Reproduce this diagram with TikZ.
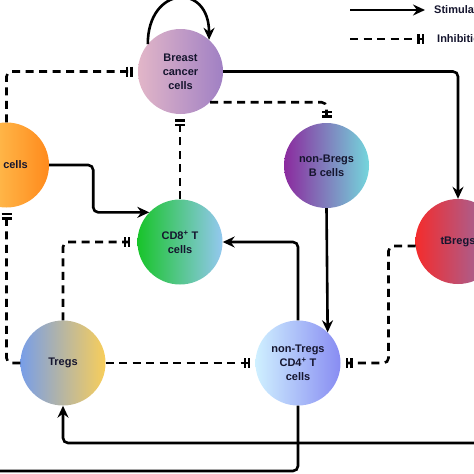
\documentclass[tikz,border=0pt]{standalone}
\usepackage{fontspec}
\setmainfont{Liberation Sans}
\usetikzlibrary{arrows.meta}
\definecolor{bcL}{HTML}{E2B6C8}
\definecolor{bcR}{HTML}{A080C4}
\definecolor{orL}{HTML}{FFD466}
\definecolor{orR}{HTML}{FF8A1C}
\definecolor{cdL}{HTML}{18C42A}
\definecolor{cdR}{HTML}{94C8F0}
\definecolor{nbL}{HTML}{8B2A9E}
\definecolor{nbR}{HTML}{74D6DC}
\definecolor{tbL}{HTML}{F42C2C}
\definecolor{tbR}{HTML}{9070B0}
\definecolor{trL}{HTML}{789EE8}
\definecolor{trR}{HTML}{F8CE5A}
\definecolor{ntL}{HTML}{CFF0FF}
\definecolor{ntR}{HTML}{888CF2}
\definecolor{txt}{HTML}{15152E}
\begin{document}
\begin{tikzpicture}[x=1pt,y=-1pt,
  cell/.style={circle, minimum size=85pt, inner sep=0pt,
    font=\fontsize{11}{14}\selectfont\bfseries, text=txt, align=center},
  stim/.style={line width=2.6pt, rounded corners=5pt,
    -{Stealth[length=12pt,width=11pt,inset=4pt]}},
  inh/.style={line width=2.6pt, rounded corners=5pt, dash pattern=on 8pt off 5.5pt,
    -{Bar[width=10pt,line width=2.4pt,sep=2pt]Bar[width=10pt,line width=2.4pt]},
    shorten >=5pt},
  plainline/.style={line width=2.6pt, rounded corners=5pt},
  legtext/.style={anchor=west, inner sep=0pt, font=\fontsize{11}{13}\selectfont\bfseries, text=txt}]
\useasboundingbox (0,0) rectangle (474,474);

% cells
\node[cell, left color=bcL, right color=bcR] (bc) at (180.5,71.5) {Breast\\cancer\\cells};
\node[cell, left color=orL, right color=orR] (ora) at (6.5,165) {};
\node[cell, text=txt] (oralbl) at (15.5,165) {cells};
\node[cell, left color=cdL, right color=cdR] (cd8) at (180,242) {CD8\textsuperscript{+} T\\cells};
\node[cell, left color=nbL, right color=nbR] (nb) at (326.5,165.5) {non-Bregs\\B cells};
\node[cell, left color=tbL, right color=tbR] (tb) at (458,241.5) {tBregs};
\node[cell, left color=trL, right color=trR] (tr) at (63,363) {Tregs};
\node[cell, left color=ntL, right color=ntR] (nt) at (298,363) {non-Tregs\\CD4\textsuperscript{+} T\\cells};

% connectors
\draw[stim] (bc.140) .. controls +(0,-58) and +(0,-58) .. (bc.48);
\draw[inh] (ora.north) |- (bc.west);
\draw[stim] (bc.east) -| (tb.north);
\draw[inh] (bc.-46) -| (nb.north);
\draw[inh] (cd8.north) -- (cd8.north |- bc.south);
\draw[stim] (ora.east) -- ++(44,0) |- (cd8.136);
\draw[inh] (tr.west) -| (ora.south);
\draw[inh, shorten >=7pt] (tr.north) |- (cd8.west);
\draw[inh] (tr.east) -- (nt.west);
\draw[stim] (nt.north) |- (cd8.east);
\draw[stim] (nb.south) -- (nt.46);
\draw[inh] (tb.186) -- ++(-27,0) |- (nt.east);
\coordinate (offL) at (-10,471);
\draw[plainline] (nt.south) |- (offL);
\coordinate (offR) at (484,443);
\draw[stim] (offR) -| (tr.south);

% legend
\coordinate (s1) at (350,10);
\coordinate (s2) at (425,10);
\draw[stim] (s1) -- (s2);
\node[legtext] (stxt) at (434,10) {Stimulation};
\coordinate (i1) at (350,39);
\coordinate (i2) at (424,39);
\draw[inh, shorten >=0pt] (i1) -- (i2);
\node[legtext] (itxt) at (437,39) {Inhibition};
\end{tikzpicture}
\end{document}
